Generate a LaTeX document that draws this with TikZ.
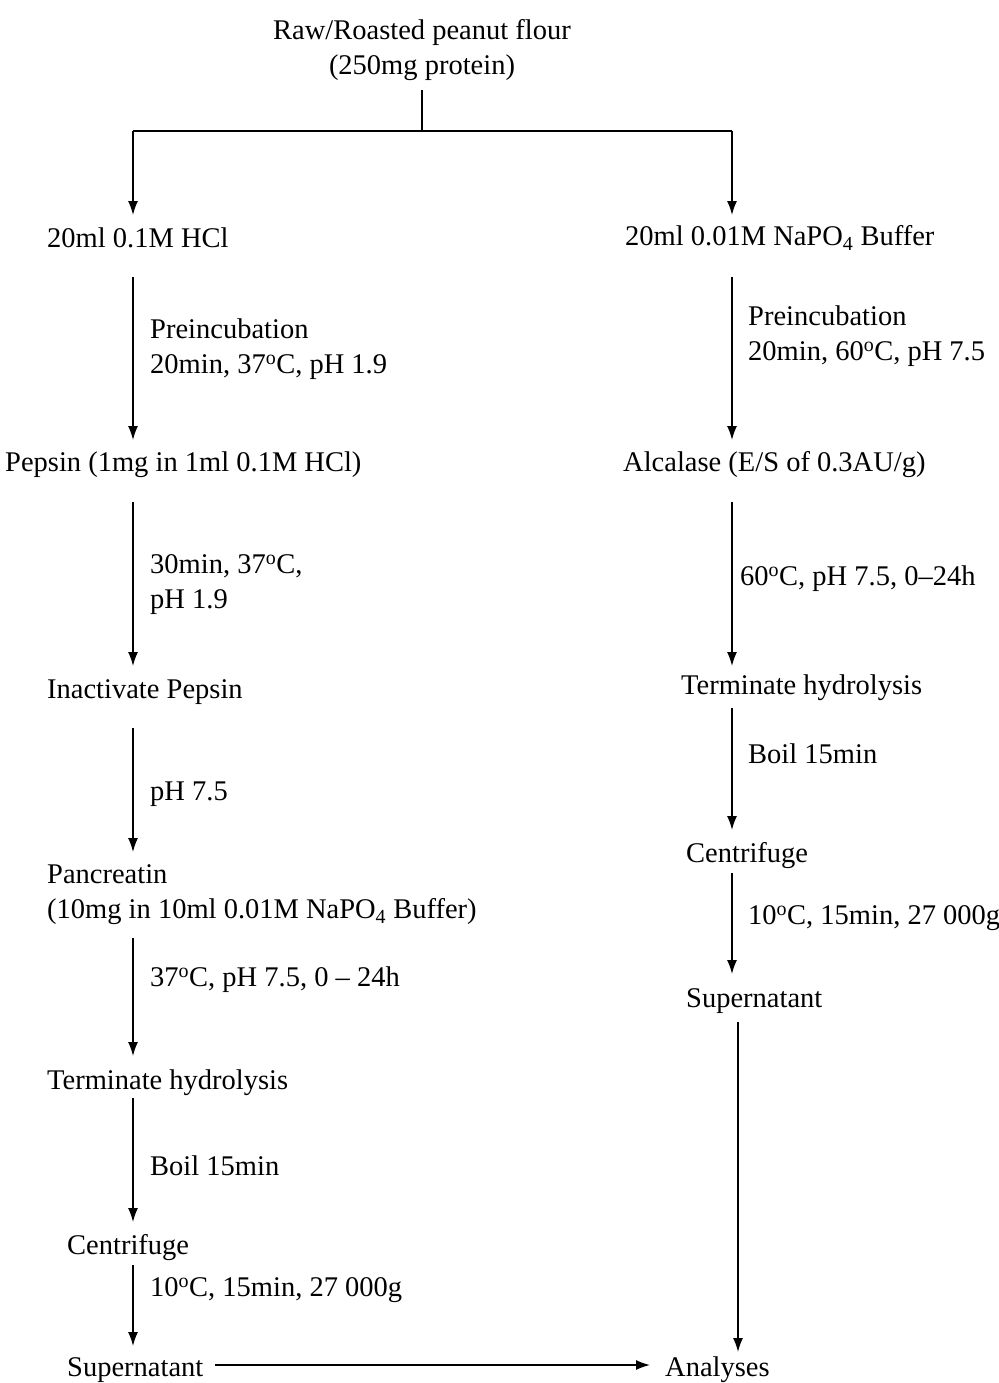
\documentclass[tikz,border=0pt]{standalone}
\usepackage{fontspec}
\setmainfont{Liberation Serif}
\usetikzlibrary{arrows.meta}
\begin{document}
\begin{tikzpicture}[x=1pt,y=-1pt,
  t/.style={anchor=west,inner sep=0pt,font=\fontsize{28.5}{35}\selectfont,align=left},
  arr/.style={draw,line width=1.5pt,-{Latex[length=14pt,width=10pt]}},
  ln/.style={draw,line width=1.5pt}]
\useasboundingbox (0,0) rectangle (998,1383);
\node[t,anchor=center,align=center] (top) at (422,50) {Raw/Roasted peanut flour\\(250mg protein)};
% left column
\node[t] (hcl) at (47,238) {20ml 0.1M HCl};
\node[t] (l1) at (150,349) {Preincubation\\20min, 37\textsuperscript{o}C, pH 1.9};
\node[t] (pep) at (5,465) {Pepsin (1mg in 1ml 0.1M HCl)};
\node[t] (l2) at (150,585) {30min, 37\textsuperscript{o}C,\\pH 1.9};
\node[t] (inact) at (47,692) {Inactivate Pepsin};
\node[t] (l3) at (150,794) {pH 7.5};
\node[t] (panc) at (47,895) {Pancreatin\\(10mg in 10ml 0.01M NaPO\textsubscript{4} Buffer)};
\node[t] (l4) at (150,980) {37\textsuperscript{o}C, pH 7.5, 0 -- 24h};
\node[t] (term) at (47,1083) {Terminate hydrolysis};
\node[t] (l5) at (150,1166) {Boil 15min};
\node[t] (cent) at (67,1248) {Centrifuge};
\node[t] (l6) at (150,1290) {10\textsuperscript{o}C, 15min, 27 000g};
\node[t] (sup) at (67,1370) {Supernatant};
% right column
\node[t] (buf) at (625,238) {20ml 0.01M NaPO\textsubscript{4} Buffer};
\node[t] (r1) at (748,336) {Preincubation\\20min, 60\textsuperscript{o}C, pH 7.5};
\node[t] (alc) at (623,465) {Alcalase (E/S of 0.3AU/g)};
\node[t] (r2) at (740,579) {60\textsuperscript{o}C, pH 7.5, 0--24h};
\node[t] (rterm) at (681,688) {Terminate hydrolysis};
\node[t] (r3) at (748,754) {Boil 15min};
\node[t] (rcent) at (686,856) {Centrifuge};
\node[t] (r4) at (748,918) {10\textsuperscript{o}C, 15min, 27 000g};
\node[t] (rsup) at (686,1001) {Supernatant};
\node[t] (ana) at (665,1370) {Analyses};
% connectors
\coordinate (s0) at (422,90); \coordinate (j) at (422,131);
\coordinate (jl) at (133,131); \coordinate (jr) at (732,131);
\coordinate (sa) at (215,1365); \coordinate (sb) at (650,1365);
\draw[ln] (s0) -- (j);
\draw[ln] (jl) -- (jr);
\draw[arr] (jl) -- (133,215);
\draw[arr] (jr) -- (732,215);
\draw[arr] (133,277) -- (133,440);
\draw[arr] (133,502) -- (133,666);
\draw[arr] (133,728) -- (133,852);
\draw[arr] (133,938) -- (133,1056);
\draw[arr] (133,1098) -- (133,1222);
\draw[arr] (133,1265) -- (133,1346);
\draw[arr] (732,277) -- (732,440);
\draw[arr] (732,502) -- (732,666);
\draw[arr] (732,708) -- (732,830);
\draw[arr] (732,873) -- (732,974);
\draw[arr] (738,1022) -- (738,1352);
\draw[arr] (sa) -- (sb);
\end{tikzpicture}
\end{document}
